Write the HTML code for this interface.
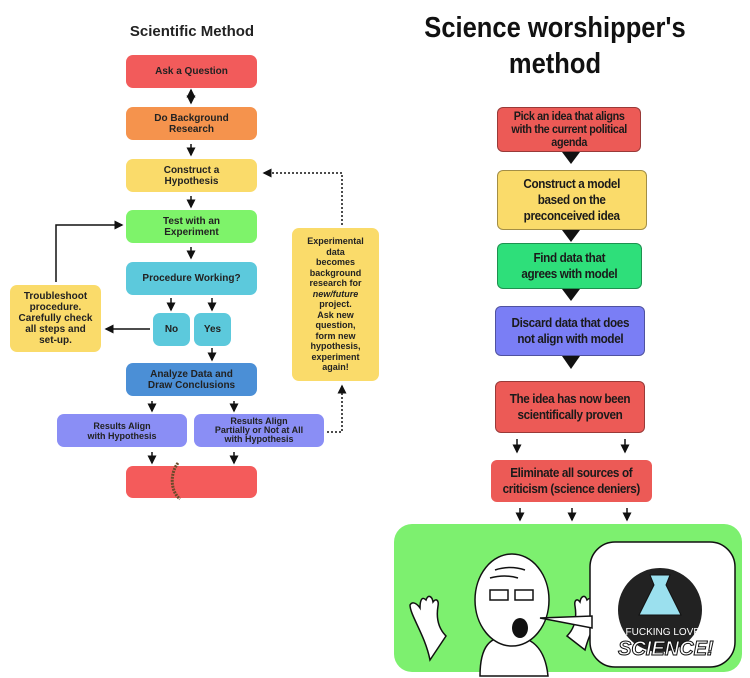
<!DOCTYPE html>
<html><head><meta charset="utf-8"><style>
body{margin:0;width:750px;height:678px;background:#fff;position:relative;overflow:hidden;font-family:"Liberation Sans",sans-serif}
.b{position:absolute;box-sizing:border-box;border-radius:7px;display:flex;align-items:center;justify-content:center;text-align:center;font-weight:bold;font-size:10px;line-height:11px;color:#222}
.r{position:absolute;box-sizing:border-box;border-radius:6px;display:flex;align-items:center;justify-content:center;text-align:center;font-weight:bold;font-size:12px;line-height:14px;letter-spacing:-0.4px;color:#1a1a1a;border:1.5px solid rgba(0,0,0,.35)}
.r>div{transform:scaleX(0.9);white-space:nowrap}
.t{position:absolute;font-weight:bold}
svg{position:absolute;left:0;top:0}
</style></head><body>
<div class="t" style="left:92px;top:23px;width:200px;text-align:center;font-size:15px;color:#222">Scientific Method</div>
<div class="b" style="left:126px;top:55px;width:131px;height:33px;background:#f25b5b">Ask a Question</div>
<div class="b" style="left:126px;top:107px;width:131px;height:33px;background:#f5934d">Do Background<br>Research</div>
<div class="b" style="left:126px;top:159px;width:131px;height:33px;background:#fadb6a">Construct a<br>Hypothesis</div>
<div class="b" style="left:126px;top:210px;width:131px;height:33px;background:#7ef36a">Test with an<br>Experiment</div>
<div class="b" style="left:126px;top:262px;width:131px;height:33px;background:#5cc9dc">Procedure Working?</div>
<div class="b" style="left:153px;top:313px;width:37px;height:33px;background:#5cc9dc">No</div>
<div class="b" style="left:194px;top:313px;width:37px;height:33px;background:#5cc9dc">Yes</div>
<div class="b" style="left:10px;top:285px;width:91px;height:67px;background:#fadb6a">Troubleshoot<br>procedure.<br>Carefully check<br>all steps and<br>set-up.</div>
<div class="b" style="left:126px;top:363px;width:131px;height:33px;background:#4b8fd6">Analyze Data and<br>Draw Conclusions</div>
<div class="b" style="left:57px;top:414px;width:130px;height:33px;background:#8a8ef5;font-size:9px;line-height:10px">Results Align<br>with Hypothesis</div>
<div class="b" style="left:194px;top:414px;width:130px;height:33px;background:#8a8ef5;font-size:9px;line-height:9px">Results Align<br>Partially or Not at All<br>with Hypothesis</div>
<div class="b" style="left:126px;top:466px;width:131px;height:32px;background:#f45b5b"></div>
<div class="b" style="left:292px;top:228px;width:87px;height:153px;background:#fadb6a;font-size:9px;line-height:10.5px"><div>Experimental<br>data<br>becomes<br>background<br>research for<br><i>new/future</i><br>project.<br>Ask new<br>question,<br>form new<br>hypothesis,<br>experiment<br>again!</div></div>

<div class="t" style="left:380px;top:10px;width:350px;text-align:center;font-size:29px;line-height:36px;color:#111;transform:scaleX(0.88)">Science worshipper's<br>method</div>
<div class="r" style="left:497px;top:107px;width:144px;height:45px;background:#ec5a56;line-height:13px"><div>Pick an idea that aligns<br>with the current political<br>agenda</div></div>
<div class="r" style="left:497px;top:170px;width:150px;height:60px;background:#fadb6a;font-size:13px;line-height:16px"><div>Construct a model<br>based on the<br>preconceived idea</div></div>
<div class="r" style="left:497px;top:243px;width:145px;height:46px;background:#2edf7a;font-size:13px;line-height:16px"><div>Find data that<br>agrees with model</div></div>
<div class="r" style="left:495px;top:306px;width:150px;height:50px;background:#7a7ef5;font-size:13px;line-height:16px"><div>Discard data that does<br>not align with model</div></div>
<div class="r" style="left:495px;top:381px;width:150px;height:52px;background:#ec5a56;font-size:13px;line-height:16px"><div>The idea has now been<br>scientifically proven</div></div>
<div class="r" style="left:491px;top:460px;width:161px;height:42px;background:#ec5a56;border:none;font-size:13px;line-height:16px"><div>Eliminate all sources of<br>criticism (science deniers)</div></div>
<div style="position:absolute;left:394px;top:524px;width:348px;height:148px;background:#7df06f;border-radius:18px"></div>

<svg width="750" height="678">
<defs><marker id="a" markerWidth="6" markerHeight="6" refX="5" refY="3" orient="auto"><path d="M0,0L6,3L0,6z" fill="#111"/></marker></defs>
<g stroke="#111" stroke-width="1.5" fill="none" marker-end="url(#a)">
<line x1="191" y1="97" x2="191" y2="103"/><line x1="191" y1="97" x2="191" y2="90"/>
<line x1="191" y1="144" x2="191" y2="155"/>
<line x1="191" y1="196" x2="191" y2="207"/>
<line x1="191" y1="247" x2="191" y2="258"/>
<line x1="171" y1="298" x2="171" y2="310"/><line x1="212" y1="298" x2="212" y2="310"/>
<line x1="212" y1="348" x2="212" y2="360"/>
<line x1="150" y1="329" x2="106" y2="329"/>
<polyline points="56,282 56,225 122,225"/>
<line x1="152" y1="401" x2="152" y2="411"/><line x1="234" y1="401" x2="234" y2="411"/>
<line x1="152" y1="452" x2="152" y2="463"/><line x1="234" y1="452" x2="234" y2="463"/>
<polyline points="342,225 342,173 264,173" stroke-dasharray="2,2"/>
<polyline points="327,432 342,432 342,386" stroke-dasharray="2,2"/>
<line x1="517" y1="439" x2="517" y2="452"/><line x1="625" y1="439" x2="625" y2="452"/>
<line x1="520" y1="508" x2="520" y2="520"/><line x1="572" y1="508" x2="572" y2="520"/><line x1="627" y1="508" x2="627" y2="520"/>
</g>
<g fill="#111">
<path d="M562,152h18l-9,12z"/><path d="M562,230h18l-9,12z"/><path d="M562,289h18l-9,12z"/><path d="M562,356h18l-9,13z"/>
</g>
<path d="M178,463c-8,10-8,28,2,36" stroke="#6a4a2a" stroke-width="3" fill="none" stroke-dasharray="2,1"/>
<g stroke="#111" stroke-width="1.5" fill="#fff">
<path d="M430,660c-5-25-20-45-20-55c3-5 8,0 10,3c0-8 2-12 6-8c2-6 6-4 7,2c3-4 6-2 5,4c-2,12 0,22 8,30z"/>
<path d="M585,650c5-20 15-35 18-45c-3-5-8,0-10,3c0-8-2-12-6-8c-2-6-6-4-7,2c-3-4-6-2-5,4c2,12 0,22-8,30z"/>
<path d="M480,676c0-30 10-40 30-40s35,10 38,40z"/>
<ellipse cx="512" cy="600" rx="37" ry="46"/>
<rect x="590" y="542" width="145" height="125" rx="25"/>
<path d="M540,618l52,10l0-12z"/>
</g>
<g stroke="#111" stroke-width="1.5" fill="none">
<rect x="490" y="590" width="18" height="10"/><rect x="515" y="590" width="18" height="10"/>
<path d="M495,570q15-5 30,0M490,578q15-4 28,0"/>
</g>
<ellipse cx="520" cy="628" rx="8" ry="10" fill="#111"/>
<circle cx="660" cy="610" r="42" fill="#222"/>
<path d="M650,575h20l-4,10l15,30h-42l15-30z" fill="#9be0ee" stroke="#111"/>
<text x="620" y="635" font-size="10" fill="#fff" font-family="Liberation Sans">I FUCKING LOVE</text>
<text x="618" y="655" font-size="20" font-weight="bold" font-style="italic" fill="#fff" stroke="#111" font-family="Liberation Sans">SCIENCE!</text>
</svg>
</body></html>
